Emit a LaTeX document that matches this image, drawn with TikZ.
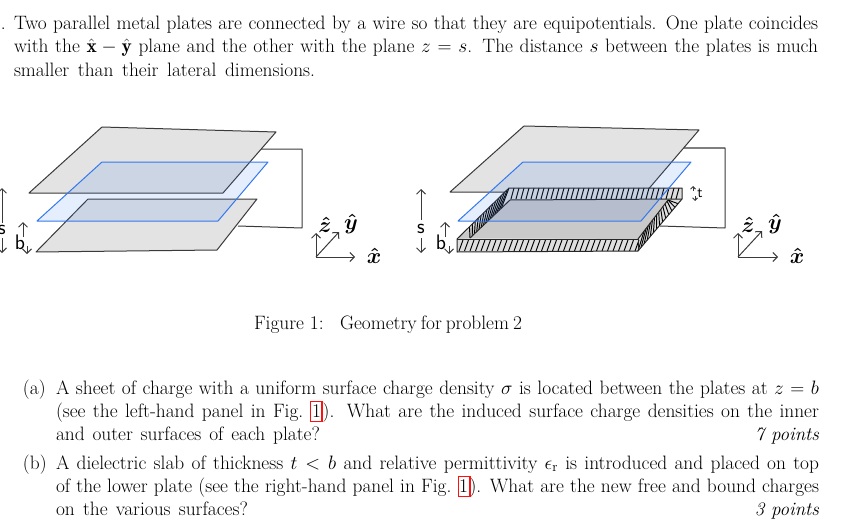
\RequirePackage{fix-cm}
\documentclass[tikz,border=0pt]{standalone}
\usepackage{amsmath}
\usepackage{fontspec}
\definecolor{plategray}{HTML}{E3E3E3}
\definecolor{floorgray}{HTML}{C9C9C9}
\definecolor{bandgray}{HTML}{DEDEDE}
\definecolor{sheetblue}{HTML}{3378EE}
\definecolor{inkdark}{HTML}{3A3A3A}
\definecolor{linkred}{HTML}{FF1010}
\newcommand{\jline}[2]{\hbox to #1{#2}}
\newcommand{\refbox}[1]{\hbox to 11.9pt{\hss #1\hss}}
\usetikzlibrary{arrows.meta}
\tikzset{
  txt/.style={anchor=base west,inner sep=0pt,outer sep=0pt,font=\fontsize{19.4}{23}\selectfont},
  rtxt/.style={anchor=base east,inner sep=0pt,outer sep=0pt,font=\fontsize{19}{23}\selectfont\itshape},
  plate/.style={draw=inkdark,line width=1pt,fill=plategray,line join=round},
  sheet/.style={draw=sheetblue,line width=1pt,fill=sheetblue,fill opacity=.125,draw opacity=1,line join=round},
  wire/.style={draw=inkdark,line width=1pt,line join=round},
  hand/.style={draw=inkdark,line width=1pt,-{Straight Barb[length=4.5pt,width=9pt]}},
  handlab/.style={inner sep=0pt,text=black,font=\fontsize{21}{21}\selectfont\sffamily},
  hatlab/.style={inner sep=0pt,text=black,font=\fontsize{22}{22}\selectfont},
  hatch/.style={draw=black,line width=.95pt},
  slabedge/.style={draw=black!85,line width=1pt,line join=round},
  linkbox/.style={draw=linkred,line width=1.2pt},
}
\begin{document}
\begin{tikzpicture}[x=1pt,y=-1pt]
\useasboundingbox (0,0) rectangle (843,524);

% ---------- text above
\node[txt] (dot) at (1,29.5) {.};
\node[txt] (l1) at (14,29.5) {\jline{804pt}{Two parallel metal plates are connected by a wire so that they are equipotentials. One plate coincides}};
\node[txt] (l2) at (14,53) {\jline{804pt}{with the $\hat{\mathbf{x}}-\hat{\mathbf{y}}$ plane and the other with the plane $z=s$. The distance $s$ between the plates is much}};
\node[txt] (l3) at (14,76.5) {\jline{301pt}{smaller than their lateral dimensions.}};

% ---------- left panel
\coordinate (Lwa) at (261,149);
\coordinate (Lwb) at (302,149);
\coordinate (Lwc) at (302,228);
\coordinate (Lwd) at (238,226);
\draw[wire] (Lwa) -- (Lwb) -- (Lwc) -- (Lwd);
\draw[plate] (88,199) -- (257,199) -- (217,250) -- (36,252) -- cycle;
\draw[plate] (102,127) -- (276,132) -- (223,193) -- (29,193) -- cycle;
\path[sheet] (102,162) -- (268,162) -- (218,221) -- (37,221) -- cycle;

\coordinate (Lsa) at (2,223); \coordinate (Lsb) at (2,188);
\coordinate (Lsc) at (2,238); \coordinate (Lsd) at (2,253);
\draw[hand] (Lsa) -- (Lsb);
\draw[hand] (Lsc) -- (Lsd);
\node[handlab] (Ls) at (2,230) {s};
\coordinate (Lba) at (23,237); \coordinate (Lbb) at (23,222);
\coordinate (Lbc) at (27,246); \coordinate (Lbd) at (27,254);
\draw[hand] (Lba) -- (Lbb);
\draw[hand] (Lbc) -- (Lbd);
\node[handlab] (Lb) at (20,242) {b};

\coordinate (Lo) at (316,257);
\coordinate (Lx) at (355,257);
\coordinate (Ly) at (339,232);
\coordinate (Lz) at (316,233);
\draw[hand] (Lo) -- (Lx);
\draw[hand] (Lo) -- (Ly);
\draw[hand] (Lo) -- (Lz);
\node[hatlab] (Llx) at (374,256) {$\boldsymbol{\hat{x}}$};
\node[hatlab] (Lly) at (351,224) {$\boldsymbol{\hat{y}}$};
\node[hatlab] (Llz) at (325,225) {$\boldsymbol{\hat{z}}$};

% ---------- right panel
\coordinate (Rwa) at (683,148);
\coordinate (Rwb) at (725,148);
\coordinate (Rwc) at (725,228);
\coordinate (Rwd) at (660,226);
\draw[wire] (Rwa) -- (Rwb) -- (Rwc) -- (Rwd);
\draw[plate] (524,126) -- (699,130) -- (646,192) -- (450,192) -- cycle;

% slab: faces
\fill[bandgray] (509,188) -- (682,188) -- (682,199) -- (638,251) -- (457,252) -- (457,239) -- cycle;
\fill[floorgray] (510,200) -- (668,200) -- (638,239) -- (470,238) -- (457,239) -- cycle;
% front face hatching
\foreach \i in {0,...,32} {
  \draw[hatch] ({459+5.5*\i},251) -- ({463+5.5*\i},240);
}
% back face hatching
\foreach \i in {0,...,33} {
  \draw[hatch] ({511+5*\i},199) -- ({514+5*\i},188);
}
% left face hatching: inner edge up to outer edge
\foreach \i in {0,...,14} {
  \pgfmathsetmacro{\ss}{\i*0.056}
  \pgfmathsetmacro{\tt}{min(\ss+0.24,1)}
  \draw[hatch] ({470+40*\ss},{238-38*\ss}) -- ({457+52*\tt},{239-51*\tt});
}
% right face hatching: lower edge up to inner edge
\foreach \i in {0,...,13} {
  \pgfmathsetmacro{\ss}{\i*0.07}
  \pgfmathsetmacro{\tt}{min(\ss+0.2,1)}
  \draw[hatch] ({638+44*\ss},{251-52*\ss}) -- ({638+30*\tt},{239-39*\tt});
}
\draw[slabedge] (509,188) -- (682,188) -- (682,199) -- (638,251) -- (457,252) -- (457,239) -- cycle;
\draw[slabedge] (457,239) -- (638,239) -- (638,251);
\draw[slabedge] (638,239) -- (668,200);
\draw[slabedge] (510,200) -- (682,199);
\draw[slabedge] (510,200) -- (470,238);

\path[sheet] (523,162) -- (691,162) -- (641,221) -- (458,221) -- cycle;

\coordinate (Rsa) at (421,220); \coordinate (Rsb) at (421,189);
\coordinate (Rsc) at (421,238); \coordinate (Rsd) at (421,253);
\draw[hand] (Rsa) -- (Rsb);
\draw[hand] (Rsc) -- (Rsd);
\node[handlab] (Rs) at (421,229) {s};
\coordinate (Rba) at (445,237); \coordinate (Rbb) at (445,222);
\coordinate (Rbc) at (449,246); \coordinate (Rbd) at (449,254);
\draw[hand] (Rba) -- (Rbb);
\draw[hand] (Rbc) -- (Rbd);
\node[handlab] (Rb) at (441,242) {b};
\node[handlab,font=\fontsize{15}{15}\selectfont\sffamily] (Rt) at (700,193) {t};
\coordinate (Rta) at (693,191); \coordinate (Rtb) at (693,186);
\coordinate (Rtc) at (695,196); \coordinate (Rtd) at (695,201);
\draw[hand,-{Straight Barb[length=2.5pt,width=5pt]}] (Rta) -- (Rtb);
\draw[hand,-{Straight Barb[length=2.5pt,width=5pt]}] (Rtc) -- (Rtd);

\coordinate (Ro) at (738,257);
\coordinate (Rx) at (778,257);
\coordinate (Ry) at (762,231);
\coordinate (Rz) at (738,233);
\draw[hand] (Ro) -- (Rx);
\draw[hand] (Ro) -- (Ry);
\draw[hand] (Ro) -- (Rz);
\node[hatlab] (Rlx) at (797,256) {$\boldsymbol{\hat{x}}$};
\node[hatlab] (Rly) at (775,224) {$\boldsymbol{\hat{y}}$};
\node[hatlab] (Rlz) at (748,225) {$\boldsymbol{\hat{z}}$};

% ---------- caption
\node[txt] (cap) at (254,329) {Figure 1:};
\node[txt] (capb) at (340,329) {\jline{181pt}{Geometry for problem 2}};

% ---------- questions
\node[txt] (a0) at (23,394) {(a)};
\node[txt] (a1) at (56,394) {\jline{763pt}{A sheet of charge with a uniform surface charge density $\sigma$ is located between the plates at $z=b$}};
\node[txt] (a2) at (56,417) {\jline{763pt}{(see the left-hand panel in Fig.~\refbox{1}). What are the induced surface charge densities on the inner}};
\node[txt] (a3) at (56,440) {\jline{264pt}{and outer surfaces of each plate?}};
\node[rtxt] (a4) at (819,440) {7 points};
\node[txt] (b0) at (23,469) {(b)};
\node[txt] (b1) at (56,469) {\jline{763pt}{A dielectric slab of thickness $t<b$ and relative permittivity $\epsilon_{\mathrm{r}}$ is introduced and placed on top}};
\node[txt] (b2) at (56,492) {\jline{763pt}{of the lower plate (see the right-hand panel in Fig.~\refbox{1}). What are the new free and bound charges}};
\node[txt] (b3) at (56,515) {\jline{192pt}{on the various surfaces?}};
\node[rtxt] (b4) at (819,515) {3 points};
\draw[linkbox] (310.5,401.5) rectangle (322,421.5);
\draw[linkbox] (458.5,476.5) rectangle (470,496.5);
\end{tikzpicture}
\end{document}
